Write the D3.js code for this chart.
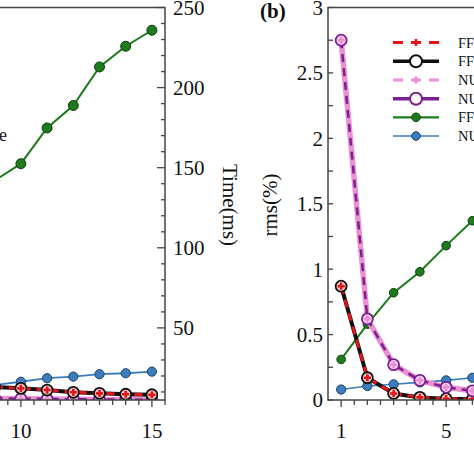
<!DOCTYPE html>
<html>
<head>
<meta charset="utf-8">
<script src="https://cdn.jsdelivr.net/npm/d3@7"></script>
<style>
  body { margin: 0; background: #fff; }
  svg { display: block; font-family: "Liberation Serif", "Times New Roman", serif; }
</style>
</head>
<body>
<div id="chart"></div>
<script>
// panel (a), only the right part is in view
const xA = [9, 10, 11, 12, 13, 14, 15];
const timeFFa = [142, 152.5, 174.8, 188.8, 212.9, 225.8, 235.8];
const timeNUa = [14.4, 16.4, 18.6, 19.6, 21.1, 21.7, 22.7];
const errFFa = [0.10, 0.089, 0.076, 0.059, 0.051, 0.044, 0.040];
const errNUa = [0.012, 0.010, 0.008, 0.006, 0.004, 0.003, 0.002];
const timeTicks = [50, 100, 150, 200, 250];

// panel (b)
const xB = [1, 2, 3, 4, 5, 6, 7];
const errFFb = [0.87, 0.17, 0.05, 0.02, 0.01, 0.005, 0.003];
const errNUb = [2.75, 0.62, 0.27, 0.15, 0.097, 0.07, 0.05];
const timeFFb = [0.31, 0.58, 0.82, 0.98, 1.18, 1.37, 1.55];
const timeNUb = [0.08, 0.107, 0.12, 0.135, 0.15, 0.17, 0.18];
const rmsTicks = [0, 0.5, 1, 1.5, 2, 2.5, 3];
const xLabels = [1, 5, 10, 15];

const legendNames = ["FFT-theory", "FFT-simulation", "NUFFT-theory", "NUFFT-simulation", "FFT-time", "NUFFT-time"];

const W = 474, H = 474;
const plotTop = 7.5, plotBottom = 400;

const RED = "#e3151b", BLACK = "#111", PINK = "#ec8fd3", PURPLE = "#7a1f8e",
      GREEN = "#1d7a1d", BLUE = "#3b7dbd", FRAME = "#444";

const svg = d3.select("#chart").append("svg").attr("width", W).attr("height", H);

const xa = d3.scaleLinear().domain([0.5, 15.5]).range([165 - 15 * 26.2, 165]);
const ya = d3.scaleLinear().domain([0, 3]).range([plotBottom, plotTop]);
const yt = d3.scaleLinear().domain([5, 250]).range([plotBottom, plotTop]);

const xb = d3.scaleLinear().domain([0.5, 15.5]).range([328, 328 + 15 * 26.25]);
const yb = d3.scaleLinear().domain([0, 3]).range([plotBottom, plotTop]);

const defs = svg.append("defs");
defs.append("clipPath").attr("id", "clipA").append("rect")
    .attr("x", xa(0.5)).attr("y", plotTop).attr("width", xa(15.5) - xa(0.5)).attr("height", plotBottom - plotTop);
defs.append("clipPath").attr("id", "clipB").append("rect")
    .attr("x", xb(0.5)).attr("y", plotTop).attr("width", xb(15.5) - xb(0.5)).attr("height", plotBottom - plotTop);

function plusMark(g, cx, cy, color, arm, w) {
    g.append("line").attr("x1", cx - arm).attr("x2", cx + arm).attr("y1", cy).attr("y2", cy)
        .attr("stroke", color).attr("stroke-width", w);
    g.append("line").attr("x1", cx).attr("x2", cx).attr("y1", cy - arm).attr("y2", cy + arm)
        .attr("stroke", color).attr("stroke-width", w);
}

// errors: solid + dashed pair drawn over each other
function drawErrPair(g, xs, vals, x, y, under, over, ring, fill, pink) {
    const line = d3.line().x((d, i) => x(xs[i])).y(d => y(d));
    if (pink) {
        g.append("path").attr("d", line(vals)).attr("fill", "none")
            .attr("stroke", over).attr("stroke-width", 5.5);
        g.append("path").attr("d", line(vals)).attr("fill", "none")
            .attr("stroke", under).attr("stroke-width", 2.5).attr("stroke-dasharray", "8,6");
    } else {
        g.append("path").attr("d", line(vals)).attr("fill", "none")
            .attr("stroke", under).attr("stroke-width", 4);
        g.append("path").attr("d", line(vals)).attr("fill", "none")
            .attr("stroke", over).attr("stroke-width", 3).attr("stroke-dasharray", "8,6");
    }
    vals.forEach((v, i) => {
        g.append("circle").attr("cx", x(xs[i])).attr("cy", y(v)).attr("r", 5.5)
            .attr("fill", fill).attr("stroke", ring).attr("stroke-width", 1.8);
        plusMark(g, x(xs[i]), y(v), pink ? PINK : RED, 3.6, 2.6);
    });
}

function drawDots(g, xs, vals, x, y, color, stroke, r, w) {
    const line = d3.line().x((d, i) => x(xs[i])).y(d => y(d));
    g.append("path").attr("d", line(vals)).attr("fill", "none")
        .attr("stroke", color).attr("stroke-width", w);
    g.selectAll(null).data(vals).join("circle")
        .attr("cx", (d, i) => x(xs[i])).attr("cy", d => y(d)).attr("r", r)
        .attr("fill", color).attr("stroke", stroke).attr("stroke-width", 1);
}

// ---------- panel (a)
const ga = svg.append("g").attr("clip-path", "url(#clipA)");
drawDots(ga, xA, timeFFa, xa, yt, GREEN, "#0d3f0d", 5, 2);
drawDots(ga, xA, timeNUa, xa, yt, BLUE, "#1d3f63", 4.6, 1.8);
drawErrPair(ga, xA, errNUa, xa, ya, PURPLE, PINK, PURPLE, "#f8d3ef", true);
drawErrPair(ga, xA, errFFa, xa, ya, BLACK, RED, BLACK, "#f6c9c9", false);

// frame a
svg.append("rect").attr("x", xa(0.5)).attr("y", plotTop)
    .attr("width", xa(15.5) - xa(0.5)).attr("height", plotBottom - plotTop)
    .attr("fill", "none").attr("stroke", FRAME).attr("stroke-width", 1.5);

// right Time axis, ticks pointing in
const timeAxis = svg.append("g").attr("transform", `translate(${xa(15.5)},0)`);
d3.range(10, 251, 10).forEach(v => {
    const major = v % 50 === 0;
    timeAxis.append("line").attr("x1", 0).attr("x2", major ? -8 : -4)
        .attr("y1", yt(v)).attr("y2", yt(v)).attr("stroke", FRAME).attr("stroke-width", 1.3);
});
timeAxis.selectAll("text").data(timeTicks).join("text")
    .attr("x", 8).attr("y", d => yt(d)).attr("dy", "0.35em")
    .attr("font-size", 21).attr("fill", "#111").text(d => d);

svg.append("text").attr("transform", `translate(223,205) rotate(90)`)
    .attr("text-anchor", "middle").attr("font-size", 21).attr("fill", "#111").text("Time(ms)");

svg.append("text").attr("x", 7).attr("y", 141).attr("text-anchor", "end")
    .attr("font-size", 18).attr("fill", "#111").text("Time");

// x ticks a
const xTicksA = svg.append("g");
d3.range(1, 15.51, 0.5).forEach(v => {
    xTicksA.append("line").attr("x1", xa(v)).attr("x2", xa(v))
        .attr("y1", plotBottom).attr("y2", plotBottom + (xLabels.includes(v) ? 7 : 5))
        .attr("stroke", FRAME).attr("stroke-width", 1.3);
});
xTicksA.selectAll("text").data(xLabels).join("text")
    .attr("x", d => xa(d)).attr("y", 438).attr("text-anchor", "middle")
    .attr("font-size", 21).attr("fill", "#111").text(d => d);

// ---------- panel (b)
const gb = svg.append("g").attr("clip-path", "url(#clipB)");
drawDots(gb, xB, timeFFb, xb, yb, GREEN, "#0d3f0d", 4.3, 2);
drawDots(gb, xB, timeNUb, xb, yb, BLUE, "#1d3f63", 4.6, 1.6);
drawErrPair(gb, xB, errFFb, xb, yb, BLACK, RED, BLACK, "#f6c9c9", false);
drawErrPair(gb, xB, errNUb, xb, yb, PURPLE, PINK, PURPLE, "#f8d3ef", true);

svg.append("rect").attr("x", xb(0.5)).attr("y", plotTop)
    .attr("width", xb(15.5) - xb(0.5)).attr("height", plotBottom - plotTop)
    .attr("fill", "none").attr("stroke", FRAME).attr("stroke-width", 1.5);

const yAxisB = svg.append("g");
d3.range(0, 3.01, 0.25).forEach(v => {
    yAxisB.append("line").attr("x1", xb(0.5)).attr("x2", xb(0.5) + 5)
        .attr("y1", yb(v)).attr("y2", yb(v)).attr("stroke", FRAME).attr("stroke-width", 1.3);
});
yAxisB.selectAll("text").data(rmsTicks).join("text")
    .attr("x", 323).attr("y", d => yb(d)).attr("dy", "0.35em").attr("text-anchor", "end")
    .attr("font-size", 21).attr("fill", "#111").text(d => d);

const xTicksB = svg.append("g");
d3.range(1, 15.51, 0.5).forEach(v => {
    xTicksB.append("line").attr("x1", xb(v)).attr("x2", xb(v))
        .attr("y1", plotBottom).attr("y2", plotBottom + (xLabels.includes(v) ? 7 : 5))
        .attr("stroke", FRAME).attr("stroke-width", 1.3);
});
xTicksB.selectAll("text").data(xLabels).join("text")
    .attr("x", d => xb(d)).attr("y", 438).attr("text-anchor", "middle")
    .attr("font-size", 21).attr("fill", "#111").text(d => d);

svg.append("text").attr("transform", `translate(277,205) rotate(-90)`)
    .attr("text-anchor", "middle").attr("font-size", 21).attr("fill", "#111").text("rms(%)");

svg.append("text").attr("x", 260).attr("y", 18).attr("font-size", 21)
    .attr("font-weight", "bold").attr("fill", "#111").text("(b)");

// legend
const legRows = [42.5, 61.2, 80, 98.7, 117.3, 136];
const leg = svg.append("g");
legendNames.forEach((name, i) => {
    const y = legRows[i], x0 = 393, x1 = 439, xm = 416;
    const row = leg.append("g");
    if (i === 0 || i === 2) {
        const c = i === 0 ? RED : PINK;
        row.append("line").attr("x1", x0).attr("x2", x1).attr("y1", y).attr("y2", y)
            .attr("stroke", c).attr("stroke-width", 3.2).attr("stroke-dasharray", "10,8");
        plusMark(row, xm, y, c, 3.5, 2.6);
    } else if (i === 1 || i === 3) {
        const c = i === 1 ? BLACK : PURPLE;
        row.append("line").attr("x1", x0).attr("x2", x1).attr("y1", y).attr("y2", y)
            .attr("stroke", c).attr("stroke-width", 3.5);
        row.append("circle").attr("cx", xm).attr("cy", y).attr("r", 6)
            .attr("fill", "#fff").attr("stroke", c).attr("stroke-width", 2);
    } else {
        const c = i === 4 ? GREEN : BLUE;
        row.append("line").attr("x1", x0).attr("x2", x1).attr("y1", y).attr("y2", y)
            .attr("stroke", c).attr("stroke-width", i === 4 ? 2.2 : 1.6);
        row.append("circle").attr("cx", xm).attr("cy", y).attr("r", 4.3)
            .attr("fill", c).attr("stroke", i === 4 ? "#0d3f0d" : "#1d3f63").attr("stroke-width", 1);
    }
    row.append("text").attr("x", 458).attr("y", y).attr("dy", "0.35em")
        .attr("font-size", 14.5).attr("fill", "#111").text(name);
});
</script>
</body>
</html>
